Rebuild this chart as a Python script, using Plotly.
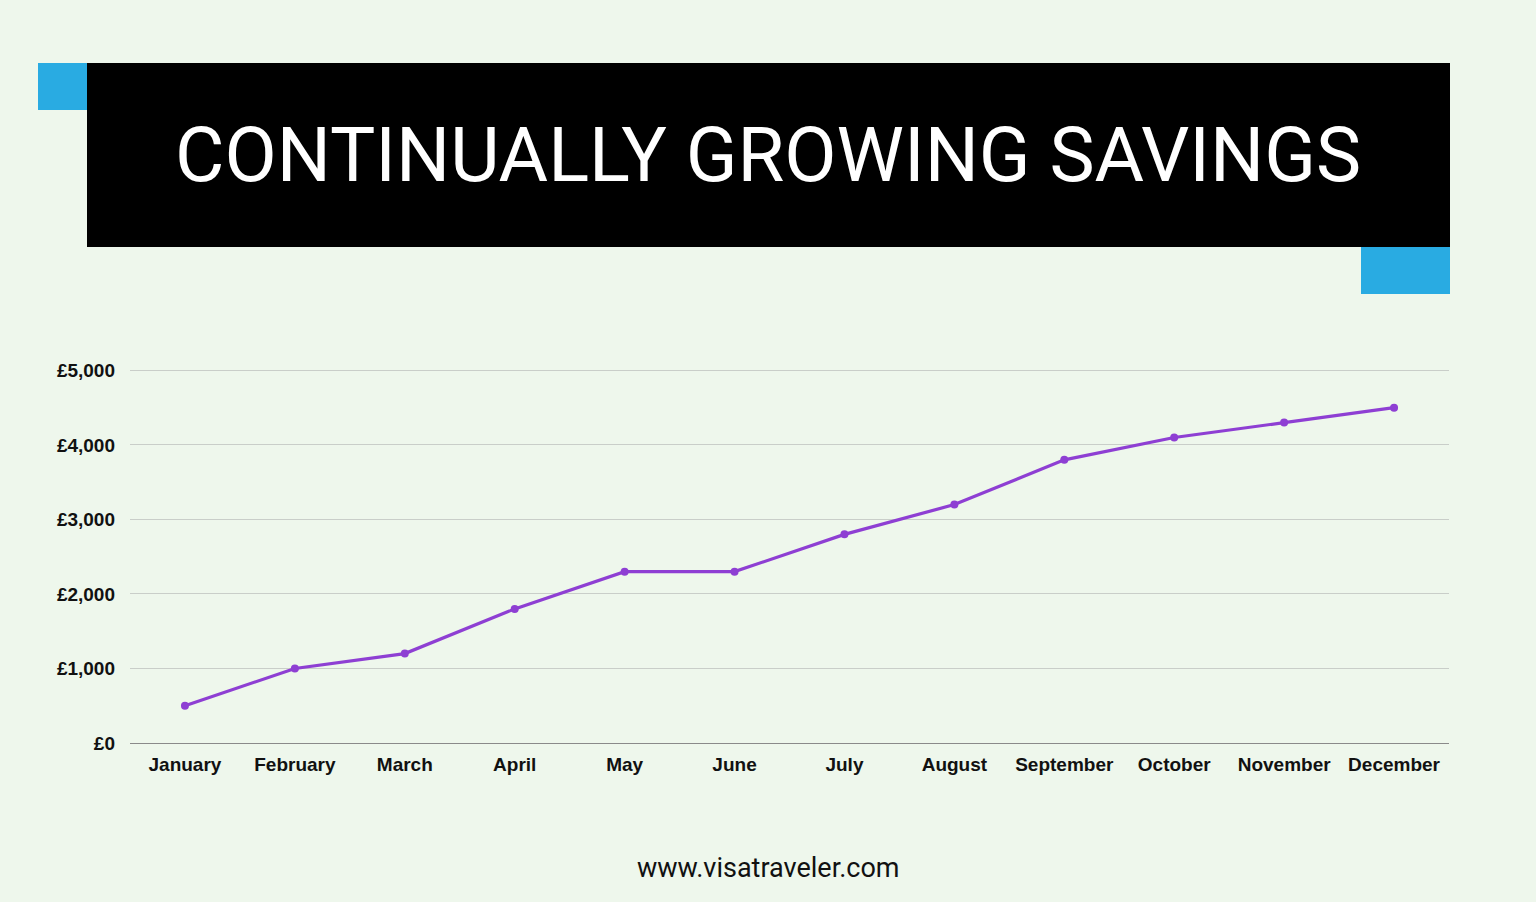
import plotly.graph_objects as go

months = ["January", "February", "March", "April", "May", "June",
          "July", "August", "September", "October", "November", "December"]
savings = [500, 1000, 1200, 1800, 2300, 2300, 2800, 3200, 3800, 4100, 4300, 4500]
y_ticks = [0, 1000, 2000, 3000, 4000, 5000]
y_labels = ["£0", "£1,000", "£2,000", "£3,000", "£4,000", "£5,000"]
title_text = "CONTINUALLY GROWING SAVINGS"
footer_text = "www.visatraveler.com"

W, H = 1536, 902
L, R, T, B = 130, 87, 363, 159
pw, ph = W - L - R, H - T - B


def px(x):
    return (x - L) / pw


def py(y):
    return (H - B - y) / ph


BG = "#EEF7EC"
BLUE = "#29ABE2"

fig = go.Figure()
fig.add_trace(go.Scatter(
    x=months, y=savings, mode="lines+markers",
    line=dict(color="#8E3FD3", width=3.2),
    marker=dict(color="#8E3FD3", size=8),
    showlegend=False, hoverinfo="x+y",
))

shapes = [
    dict(type="rect", xref="paper", yref="paper", x0=px(38), x1=px(88), y0=py(63), y1=py(110),
         fillcolor=BLUE, line=dict(width=0)),
    dict(type="rect", xref="paper", yref="paper", x0=px(1361), x1=px(1450), y0=py(246), y1=py(294),
         fillcolor=BLUE, line=dict(width=0)),
    dict(type="rect", xref="paper", yref="paper", x0=px(87), x1=px(1450), y0=py(63), y1=py(247),
         fillcolor="#000000", line=dict(width=0)),
]

annotations = [
    dict(text=title_text, xref="paper", yref="paper", x=px(768), y=py(155),
         xanchor="center", yanchor="middle", showarrow=False,
         font=dict(family="Roboto", size=76, color="#FFFFFF")),
    dict(text=footer_text, xref="paper", yref="paper", x=px(768), y=py(868),
         xanchor="center", yanchor="middle", showarrow=False,
         font=dict(family="Roboto", size=27, color="#111111")),
]

fig.update_layout(
    width=W, height=H,
    margin=dict(l=L, r=R, t=T, b=B, autoexpand=False),
    paper_bgcolor=BG, plot_bgcolor=BG,
    shapes=shapes, annotations=annotations,
    xaxis=dict(
        type="category", range=[-0.5, 11.5], showgrid=False,
        showline=True, linecolor="#8A8A8A", linewidth=1,
        ticks="", ticklabelstandoff=4,
        tickfont=dict(family="Liberation Sans", size=19, color="#111111", weight="bold"),
        fixedrange=True,
    ),
    yaxis=dict(
        range=[0, 5100], tickvals=y_ticks, ticktext=y_labels,
        showgrid=True, gridcolor="#C9CEC9", gridwidth=1,
        zeroline=False, showline=False, ticks="", ticklabelstandoff=14,
        tickfont=dict(family="Liberation Sans", size=19, color="#111111", weight="bold"),
        fixedrange=True,
    ),
)

fig.write_html("out.html")
